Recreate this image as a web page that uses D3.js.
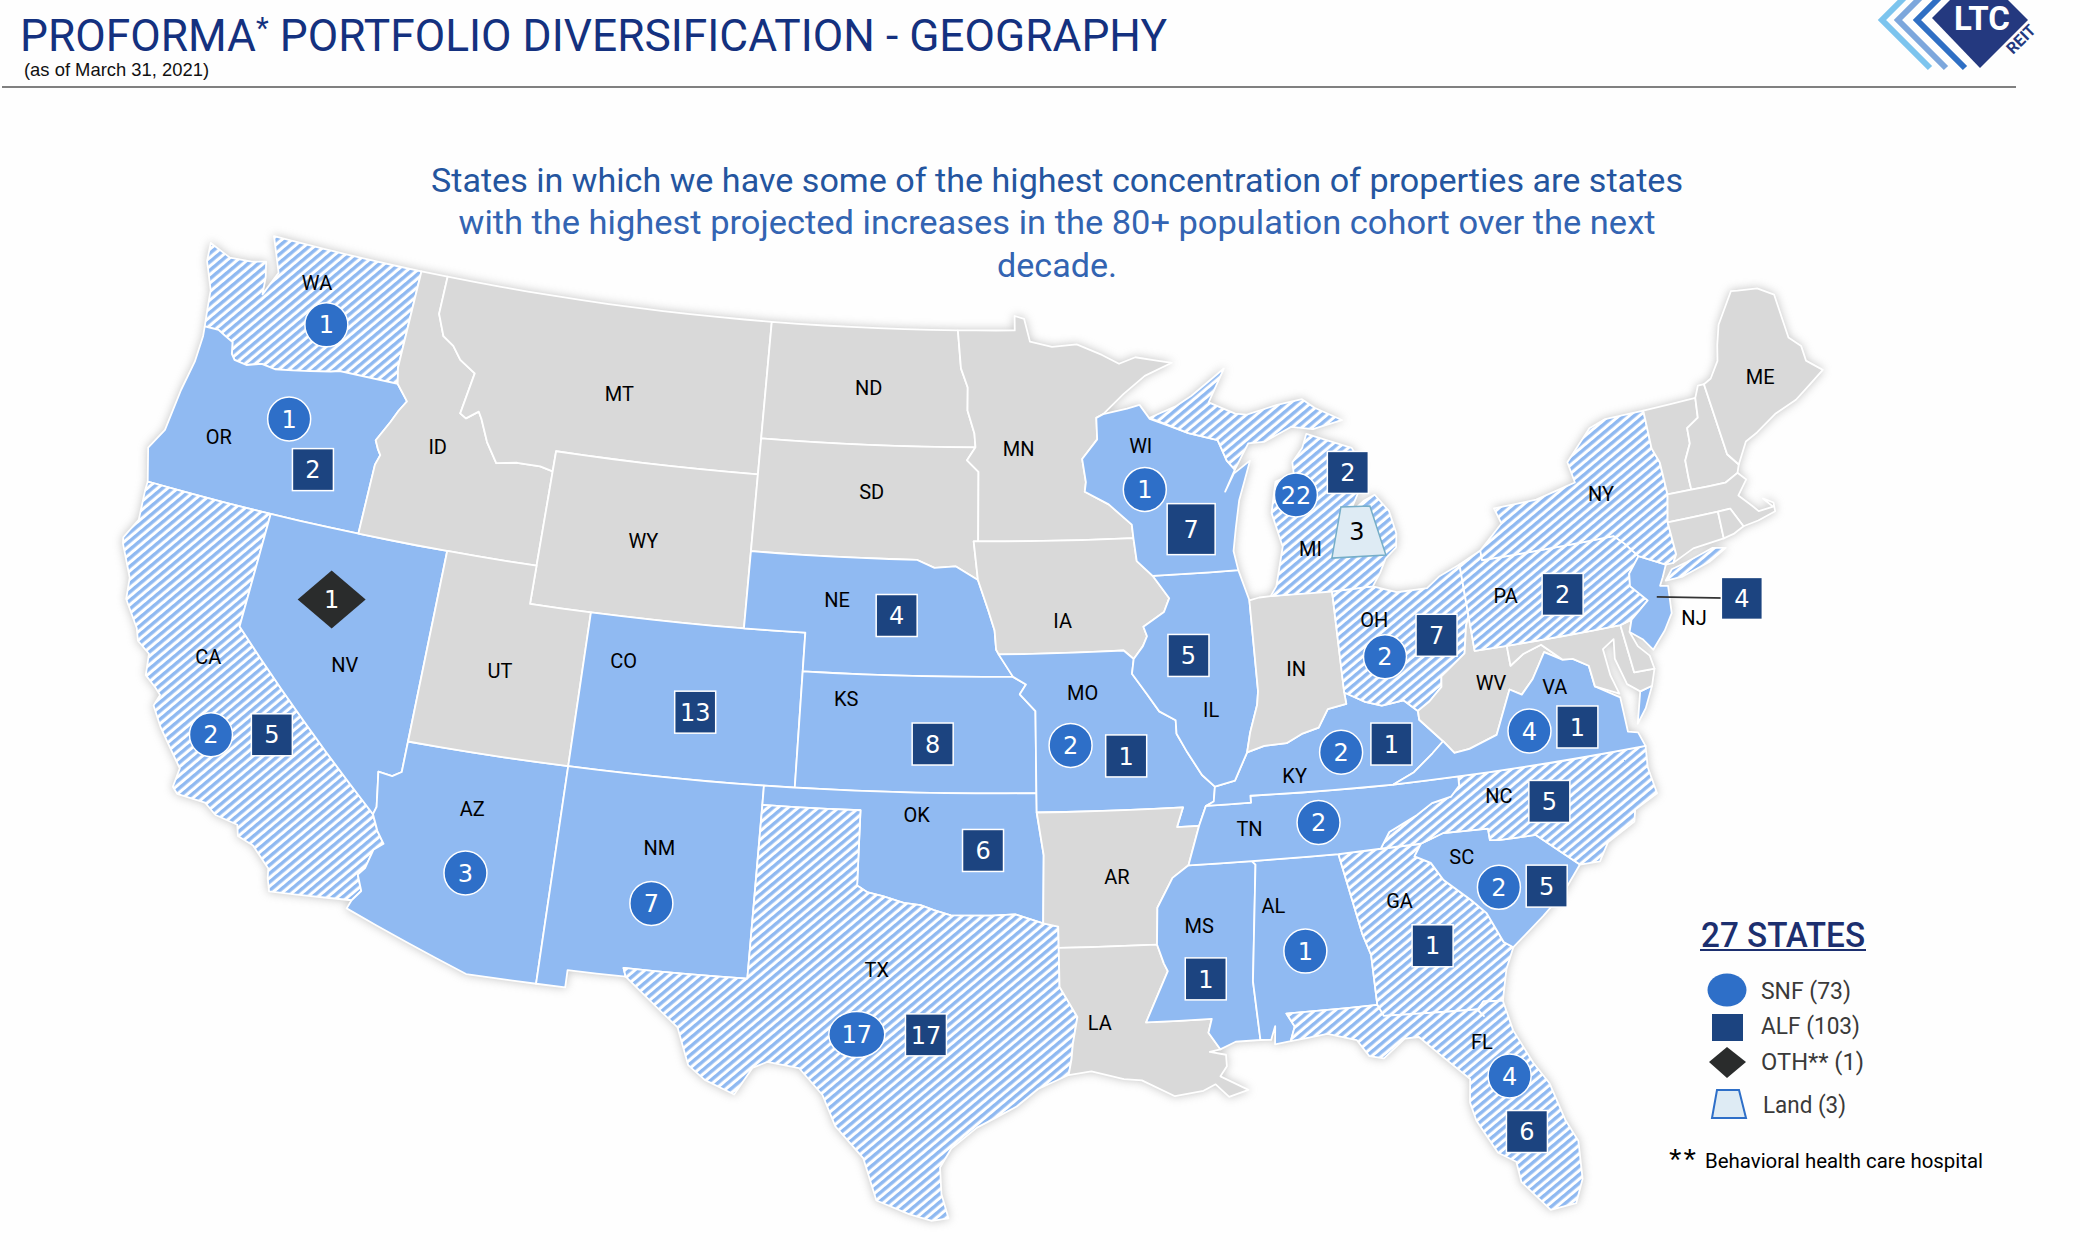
<!DOCTYPE html>
<html>
<head>
<meta charset="utf-8">
<title>Portfolio diversification - geography</title>
<script src="https://cdn.jsdelivr.net/npm/d3@7"></script>
<style>
    body { margin: 0; background: #fefefe; }
    text { font-family: Roboto, "Liberation Sans", sans-serif; }
</style>
</head>
<body>
<div id="chart"></div>
<script>
// Data: facility markers
var markerStates = ["WA", "OR", "OR", "CA", "CA", "NV", "AZ", "NM", "CO", "NE", "KS", "OK", "TX", "TX", "MO", "MO", "WI", "WI", "IL", "MI", "MI", "MI", "OH", "OH", "KY", "KY", "TN", "VA", "VA", "NC", "SC", "SC", "GA", "AL", "MS", "FL", "FL", "PA", "NJ"];
var markerKinds = ["SNF", "SNF", "ALF", "SNF", "ALF", "OTH", "SNF", "SNF", "ALF", "ALF", "ALF", "ALF", "SNF", "ALF", "SNF", "ALF", "SNF", "ALF", "ALF", "SNF", "ALF", "Land", "SNF", "ALF", "SNF", "ALF", "SNF", "SNF", "ALF", "ALF", "SNF", "ALF", "ALF", "SNF", "ALF", "SNF", "ALF", "ALF", "ALF"];
var markerCounts = [1, 1, 2, 2, 5, 1, 3, 7, 13, 4, 8, 6, 17, 17, 2, 1, 1, 7, 5, 22, 2, 3, 2, 7, 2, 1, 2, 4, 1, 5, 2, 5, 1, 1, 1, 4, 6, 2, 4];
var markerLon = [-119.76, -120.14, -118.91, -119.86, -118.06, -117.26, -111.49, -105.93, -105.23, -98.99, -97.73, -96.15, -99.72, -97.76, -93.42, -91.70, -90.62, -89.14, -89.54, -85.49, -83.63, -83.63, -83.27, -81.53, -85.04, -83.46, -85.98, -79.17, -77.69, -78.98, -80.92, -79.53, -83.10, -86.78, -89.72, -81.51, -81.29, -77.28, -71.70];
var markerLat = [47.11, 44.51, 43.38, 36.15, 36.50, 40.22, 33.92, 33.74, 38.75, 41.55, 38.26, 35.53, 30.71, 30.75, 38.21, 37.89, 44.74, 43.64, 40.39, 44.29, 44.72, 43.03, 39.88, 40.25, 37.57, 37.63, 35.83, 37.45, 37.34, 35.58, 33.60, 33.44, 32.34, 32.56, 32.04, 28.73, 27.23, 40.76, 39.69];

// Data: state abbreviations and where they sit
var labelNames = ["WA", "OR", "CA", "NV", "ID", "MT", "WY", "UT", "CO", "AZ", "NM", "ND", "SD", "NE", "KS", "OK", "TX", "MN", "IA", "MO", "AR", "LA", "WI", "IL", "MI", "IN", "OH", "KY", "TN", "MS", "AL", "GA", "FL", "SC", "NC", "VA", "WV", "PA", "NY", "NJ", "ME"];
var labelLon = [-120.49, -122.28, -120.59, -116.37, -114.96, -109.06, -107.55, -111.52, -107.68, -111.62, -105.88, -100.26, -99.99, -100.97, -100.50, -98.18, -99.22, -94.93, -93.56, -92.99, -92.15, -92.82, -90.67, -88.95, -85.22, -86.14, -83.44, -86.55, -88.08, -89.80, -87.58, -83.87, -82.12, -81.86, -80.45, -78.13, -80.08, -79.10, -75.31, -73.34, -69.02];
var labelLat = [48.12, 43.63, 38.08, 38.65, 44.61, 46.71, 43.00, 39.19, 39.88, 35.57, 35.19, 47.44, 44.72, 41.90, 39.35, 36.44, 32.41, 45.91, 41.42, 39.56, 34.79, 31.03, 45.88, 38.96, 42.86, 39.83, 40.87, 37.08, 35.82, 33.42, 33.79, 33.60, 29.72, 34.51, 35.93, 38.45, 38.82, 40.99, 43.12, 39.48, 45.09];

var solidStates = ["OR", "NV", "AZ", "NM", "CO", "NE", "KS", "OK", "MO", "WI", "IL", "KY", "TN", "VA", "SC", "AL", "MS", "NJ"];
var hatchedStates = ["WA", "CA", "TX", "MI", "OH", "PA", "NY", "NC", "GA", "FL"];

var legendLabels = ["SNF (73)", "ALF (103)", "OTH** (1)", "Land (3)"];

// Data: state outlines as lon/lat rings
var WA = [[-124.0, 46.25], [-124.1, 46.7], [-124.2, 47.2], [-124.65, 47.9], [-124.73, 48.38], [-123.9, 48.15], [-123.1, 48.2], [-122.6, 48.3], [-122.45, 47.9], [-122.38, 47.45], [-122.05, 48.1], [-122.6, 49.0], [-117.03, 49], [-117.04, 46.42], [-116.92, 46.0], [-119.0, 46.0], [-119.3, 45.93], [-120.0, 45.82], [-120.6, 45.73], [-121.2, 45.65], [-121.7, 45.7], [-122.2, 45.57], [-122.65, 45.62], [-122.8, 45.75], [-122.9, 46.05], [-123.2, 46.15], [-123.5, 46.26]];
var OR = [[-124.21, 42], [-124.55, 42.84], [-124.2, 43.4], [-124.1, 44.5], [-123.95, 45.3], [-123.95, 46.0], [-124.0, 46.25], [-123.5, 46.26], [-123.2, 46.15], [-122.9, 46.05], [-122.8, 45.75], [-122.65, 45.62], [-122.2, 45.57], [-121.7, 45.7], [-121.2, 45.65], [-120.6, 45.73], [-120.0, 45.82], [-119.3, 45.93], [-119.0, 46.0], [-116.92, 46.0], [-116.46, 45.6], [-116.67, 45.32], [-116.85, 45.0], [-117.2, 44.45], [-117.05, 44.23], [-116.93, 44.1], [-117.03, 43.83], [-117.03, 42]];
var CA = [[-124.21, 42], [-120, 42], [-120, 39], [-114.63, 35], [-114.4, 34.6], [-114.14, 34.3], [-114.4, 34.1], [-114.53, 33.6], [-114.7, 33.4], [-114.5, 33.0], [-114.72, 32.72], [-117.12, 32.53], [-117.25, 32.85], [-117.3, 33.1], [-117.9, 33.6], [-118.4, 33.75], [-118.5, 34.03], [-119.2, 34.15], [-119.6, 34.4], [-120.47, 34.45], [-120.65, 34.6], [-120.6, 35.1], [-120.9, 35.4], [-121.5, 36.0], [-121.9, 36.5], [-121.8, 36.8], [-122.0, 36.95], [-122.4, 37.2], [-122.5, 37.75], [-122.95, 38.0], [-123.1, 38.3], [-123.7, 38.95], [-123.8, 39.5], [-124.35, 40.3], [-124.4, 40.45], [-124.1, 41.0], [-124.2, 41.75]];
var NV = [[-120, 42], [-114.04, 42], [-114.04, 36.2], [-114.3, 36.05], [-114.74, 36.1], [-114.7, 35.9], [-114.57, 35.2], [-114.63, 35], [-120, 39]];
var AZ = [[-114.04, 37], [-109.05, 37], [-109.05, 31.33], [-111.07, 31.33], [-114.81, 32.49], [-114.72, 32.72], [-114.5, 33.0], [-114.7, 33.4], [-114.53, 33.6], [-114.4, 34.1], [-114.14, 34.3], [-114.4, 34.6], [-114.63, 35], [-114.57, 35.2], [-114.7, 35.9], [-114.74, 36.1], [-114.3, 36.05], [-114.04, 36.2]];
var ID = [[-117.03, 49], [-116.05, 49], [-116.05, 48], [-115.72, 47.45], [-115.3, 47.25], [-114.95, 46.93], [-114.35, 46.65], [-114.56, 45.56], [-114.33, 45.46], [-113.94, 45.69], [-113.8, 45.52], [-113.45, 44.95], [-113.0, 44.45], [-112.3, 44.55], [-111.5, 44.55], [-111.05, 44.47], [-111.05, 42], [-117.03, 42], [-117.03, 43.83], [-116.93, 44.1], [-117.05, 44.23], [-117.2, 44.45], [-116.85, 45.0], [-116.67, 45.32], [-116.46, 45.6], [-116.92, 46.0], [-117.04, 46.42]];
var MT = [[-116.05, 49], [-104.05, 49], [-104.05, 45], [-111.05, 45], [-111.05, 44.47], [-111.5, 44.55], [-112.3, 44.55], [-113.0, 44.45], [-113.45, 44.95], [-113.8, 45.52], [-113.94, 45.69], [-114.33, 45.46], [-114.56, 45.56], [-114.35, 46.65], [-114.95, 46.93], [-115.3, 47.25], [-115.72, 47.45], [-116.05, 48]];
var WY = [[-111.05, 45], [-104.05, 45], [-104.05, 41], [-111.05, 41]];
var UT = [[-114.04, 42], [-111.05, 42], [-111.05, 41], [-109.05, 41], [-109.05, 37], [-114.04, 37]];
var CO = [[-109.05, 41], [-102.05, 41], [-102.05, 37], [-109.05, 37]];
var NM = [[-109.05, 37], [-103, 37], [-103.04, 32], [-106.62, 32], [-106.53, 31.78], [-108.21, 31.78], [-108.21, 31.33], [-109.05, 31.33]];
var ND = [[-104.05, 49], [-97.23, 49], [-97.1, 48], [-96.85, 47.5], [-96.85, 46.9], [-96.6, 46.3], [-96.56, 45.94], [-104.05, 45.94]];
var SD = [[-104.05, 45.94], [-96.56, 45.94], [-96.85, 45.6], [-96.45, 45.3], [-96.45, 43.5], [-96.6, 43.5], [-96.45, 42.5], [-97.2, 42.85], [-97.9, 42.8], [-98.5, 43], [-104.05, 43]];
var NE = [[-104.05, 43], [-98.5, 43], [-97.9, 42.8], [-97.2, 42.85], [-96.45, 42.5], [-96.1, 41.7], [-95.9, 41.2], [-95.85, 40.7], [-95.31, 40], [-102.05, 40], [-102.05, 41], [-104.05, 41]];
var KS = [[-102.05, 40], [-95.31, 40], [-94.9, 39.8], [-95.1, 39.55], [-94.61, 39.11], [-94.62, 37], [-102.05, 37]];
var OK = [[-103, 37], [-94.62, 37], [-94.62, 36.5], [-94.43, 35.4], [-94.48, 33.64], [-95.3, 33.88], [-96, 33.85], [-96.6, 33.85], [-97.2, 33.85], [-97.7, 33.98], [-98.1, 34.1], [-98.6, 34.15], [-99.2, 34.3], [-99.7, 34.4], [-100, 34.56], [-100, 36.5], [-103, 36.5]];
var TX = [[-103, 36.5], [-100, 36.5], [-100, 34.56], [-99.7, 34.4], [-99.2, 34.3], [-98.6, 34.15], [-98.1, 34.1], [-97.7, 33.98], [-97.2, 33.85], [-96.6, 33.85], [-96, 33.85], [-95.3, 33.88], [-94.48, 33.64], [-94.04, 33.55], [-94.04, 31.99], [-93.55, 31.2], [-93.7, 30.5], [-93.75, 30.1], [-93.84, 29.7], [-94.7, 29.35], [-95.3, 28.9], [-96.4, 28.35], [-97.1, 27.8], [-97.4, 27.3], [-97.35, 26.6], [-97.15, 25.97], [-97.6, 25.9], [-98.2, 26.06], [-99.1, 26.4], [-99.5, 27.5], [-100.3, 28.3], [-100.7, 29.1], [-101.4, 29.77], [-102.3, 29.88], [-102.7, 29.7], [-103.15, 28.98], [-104, 29.3], [-104.5, 29.65], [-104.9, 30.6], [-106, 31.4], [-106.53, 31.78], [-106.62, 32], [-103.04, 32]];
var MN = [[-97.23, 49], [-95.15, 49], [-95.15, 49.38], [-94.8, 49.3], [-94.6, 48.7], [-93.8, 48.55], [-92.9, 48.6], [-92, 48.3], [-91.4, 48.05], [-90.8, 48.2], [-89.5, 48], [-90.5, 47.7], [-91.3, 47.25], [-92.05, 46.75], [-92.3, 46.66], [-92.3, 46.1], [-92.85, 45.6], [-92.75, 45], [-92.8, 44.75], [-92, 44.4], [-91.25, 43.85], [-91.22, 43.5], [-96.45, 43.5], [-96.45, 45.3], [-96.85, 45.6], [-96.56, 45.94], [-96.6, 46.3], [-96.85, 46.9], [-96.85, 47.5], [-97.1, 48]];
var IA = [[-96.45, 43.5], [-91.22, 43.5], [-91.15, 42.9], [-90.65, 42.5], [-90.15, 41.9], [-90.35, 41.55], [-91.05, 41.2], [-90.95, 40.95], [-91.1, 40.7], [-91.42, 40.38], [-91.73, 40.61], [-95.77, 40.58], [-95.85, 40.7], [-95.9, 41.2], [-96.1, 41.7], [-96.45, 42.5], [-96.6, 43.5]];
var MO = [[-95.77, 40.58], [-91.73, 40.61], [-91.42, 40.38], [-91.5, 40], [-91.05, 39.45], [-90.7, 39], [-90.2, 38.75], [-90.2, 38.4], [-89.9, 37.9], [-89.5, 37.3], [-89.13, 36.98], [-89.2, 36.6], [-89.45, 36.5], [-89.7, 36], [-90.37, 36], [-90.15, 36.5], [-94.62, 36.5], [-94.62, 37], [-94.61, 39.11], [-95.1, 39.55], [-94.9, 39.8], [-95.31, 40]];
var AR = [[-94.62, 36.5], [-90.15, 36.5], [-90.37, 36], [-89.7, 36], [-90.1, 35], [-90.6, 34.7], [-91.1, 33.95], [-91.17, 33], [-94.04, 33], [-94.04, 33.55], [-94.48, 33.64], [-94.43, 35.4]];
var LA = [[-94.04, 33], [-91.17, 33], [-91, 32.5], [-90.9, 32.3], [-91.6, 31], [-89.73, 31], [-89.85, 30.65], [-89.55, 30.2], [-89.85, 30.15], [-89.4, 30.05], [-89.4, 29.75], [-89.6, 29.5], [-88.85, 29.1], [-89.4, 28.95], [-89.75, 29.3], [-90.1, 29.15], [-90.9, 29.05], [-91.8, 29.5], [-92.3, 29.55], [-93.2, 29.78], [-93.84, 29.7], [-93.75, 30.1], [-93.7, 30.5], [-93.55, 31.2], [-94.04, 31.99]];
var MS = [[-90.1, 35], [-88.2, 35], [-88.1, 34.9], [-88.47, 31.9], [-88.4, 30.37], [-89.1, 30.37], [-89.55, 30.2], [-89.85, 30.65], [-89.73, 31], [-91.6, 31], [-90.9, 32.3], [-91, 32.5], [-91.17, 33], [-91.1, 33.95], [-90.6, 34.7]];
var AL = [[-88.2, 35], [-85.6, 34.98], [-85.18, 32.87], [-85, 32.3], [-85, 31], [-87.6, 31], [-87.4, 30.65], [-87.55, 30.28], [-88, 30.23], [-87.95, 30.7], [-88.1, 30.35], [-88.4, 30.37], [-88.47, 31.9], [-88.1, 34.9]];
var GA = [[-85.6, 34.98], [-83.11, 35], [-83.35, 34.7], [-82.9, 34.48], [-82.6, 34], [-81.9, 33.4], [-81.5, 33], [-81.15, 32.2], [-80.9, 32.03], [-81.2, 31.5], [-81.45, 30.7], [-82, 30.75], [-82.2, 30.55], [-82.05, 30.37], [-82.2, 30.57], [-84.86, 30.7], [-85, 31], [-85, 32.3], [-85.18, 32.87]];
var FL = [[-87.6, 31], [-85, 31], [-84.86, 30.7], [-82.2, 30.57], [-82.05, 30.37], [-82.2, 30.55], [-82, 30.75], [-81.45, 30.7], [-81.3, 29.9], [-80.9, 29], [-80.55, 28.4], [-80.3, 27.4], [-80.05, 26.8], [-80.12, 25.8], [-80.4, 25.2], [-81.1, 25.12], [-81.75, 25.95], [-81.8, 26.5], [-82.25, 26.8], [-82.7, 27.7], [-82.8, 28.2], [-82.7, 28.8], [-83.4, 29.5], [-83.95, 30.05], [-84.35, 30.05], [-85, 29.6], [-85.4, 29.7], [-85.7, 30.15], [-86.5, 30.38], [-87.55, 30.28], [-87.4, 30.65]];
var SC = [[-83.11, 35], [-82.4, 35.2], [-81.05, 35.15], [-81.05, 34.85], [-80.8, 34.82], [-79.67, 34.8], [-78.55, 33.86], [-79.2, 33.2], [-79.9, 32.7], [-80.5, 32.3], [-80.9, 32.03], [-81.15, 32.2], [-81.5, 33], [-81.9, 33.4], [-82.6, 34], [-82.9, 34.48], [-83.35, 34.7]];
var NC = [[-84.32, 35], [-83.11, 35], [-82.4, 35.2], [-81.05, 35.15], [-81.05, 34.85], [-80.8, 34.82], [-79.67, 34.8], [-78.55, 33.86], [-77.95, 33.85], [-77.6, 34.3], [-76.7, 34.7], [-76.6, 35], [-75.85, 35.3], [-75.95, 36], [-75.87, 36.55], [-81.68, 36.59], [-81.7, 36.35], [-82, 36.1], [-82.6, 36], [-83.1, 35.75], [-84, 35.4]];
var TN = [[-90.1, 35], [-88.2, 35], [-85.6, 34.98], [-84.32, 35], [-84, 35.4], [-83.1, 35.75], [-82.6, 36], [-82, 36.1], [-81.7, 36.35], [-81.68, 36.59], [-83.68, 36.6], [-86.5, 36.65], [-88.07, 36.68], [-88.07, 36.5], [-89.45, 36.5], [-89.7, 36]];
var KY = [[-89.13, 36.98], [-89.2, 36.6], [-89.45, 36.5], [-88.07, 36.5], [-88.07, 36.68], [-86.5, 36.65], [-83.68, 36.6], [-83, 36.85], [-82.35, 37.27], [-81.97, 37.54], [-82.6, 38.17], [-82.6, 38.4], [-83, 38.72], [-83.7, 38.65], [-84.2, 38.8], [-84.82, 39.1], [-84.8, 38.8], [-85.4, 38.72], [-85.75, 38.27], [-86.3, 38.15], [-86.8, 37.95], [-87.5, 37.93], [-88.05, 37.8], [-88.5, 37.1]];
var IL = [[-90.65, 42.5], [-87.8, 42.5], [-87.53, 41.7], [-87.53, 39.35], [-87.6, 39], [-87.9, 38.3], [-88.05, 37.8], [-88.5, 37.1], [-89.13, 36.98], [-89.5, 37.3], [-89.9, 37.9], [-90.2, 38.4], [-90.2, 38.75], [-90.7, 39], [-91.05, 39.45], [-91.5, 40], [-91.42, 40.38], [-91.1, 40.7], [-90.95, 40.95], [-91.05, 41.2], [-90.35, 41.55], [-90.15, 41.9]];
var IN = [[-87.53, 41.7], [-87.2, 41.75], [-86.82, 41.76], [-84.8, 41.76], [-84.82, 39.1], [-84.8, 38.8], [-85.4, 38.72], [-85.75, 38.27], [-86.3, 38.15], [-86.8, 37.95], [-87.5, 37.93], [-88.05, 37.8], [-87.9, 38.3], [-87.6, 39], [-87.53, 39.35]];
var OH = [[-84.8, 41.72], [-83.45, 41.73], [-82.7, 41.5], [-81.7, 41.5], [-81.25, 41.75], [-80.52, 41.98], [-80.52, 40.64], [-80.65, 40.4], [-80.85, 39.7], [-81.7, 39.2], [-81.75, 38.93], [-82.2, 38.6], [-82.6, 38.4], [-83, 38.72], [-83.7, 38.65], [-84.2, 38.8], [-84.82, 39.1]];
var WV = [[-82.6, 38.4], [-82.2, 38.6], [-81.75, 38.93], [-81.7, 39.2], [-80.85, 39.7], [-80.65, 40.4], [-80.52, 40.64], [-80.52, 39.72], [-79.48, 39.72], [-79.48, 39.2], [-79, 39.45], [-78.4, 39.6], [-77.83, 39.13], [-78.35, 39.4], [-78.87, 38.77], [-79.3, 38.42], [-79.65, 38.6], [-80.3, 37.5], [-81.2, 37.25], [-81.68, 37.2], [-81.97, 37.54], [-82.6, 38.17]];
var VA = [[-83.68, 36.6], [-81.68, 36.59], [-75.87, 36.55], [-76, 36.93], [-76.3, 37], [-76.3, 37.55], [-76.3, 37.9], [-77, 38.3], [-77.05, 38.85], [-77.5, 39.1], [-77.83, 39.13], [-78.35, 39.4], [-78.87, 38.77], [-79.3, 38.42], [-79.65, 38.6], [-80.3, 37.5], [-81.2, 37.25], [-81.68, 37.2], [-81.97, 37.54], [-82.35, 37.27], [-83, 36.85]];
var VAshore = [[-75.95, 37.15], [-75.65, 37.95], [-75.25, 38.03], [-75.6, 37.5]];
var MD = [[-79.48, 39.72], [-75.79, 39.72], [-75.7, 38.46], [-75.05, 38.45], [-75.25, 38.03], [-75.65, 37.95], [-76, 38.2], [-76.2, 38.9], [-76.1, 39.4], [-76.5, 39.2], [-76.45, 38.5], [-76.3, 38], [-77, 38.3], [-77.05, 38.85], [-77.5, 39.1], [-77.83, 39.13], [-78.4, 39.6], [-79, 39.45], [-79.48, 39.2]];
var DE = [[-75.79, 39.72], [-75.4, 39.8], [-75.55, 39.5], [-75.4, 39.1], [-75.1, 38.8], [-75.05, 38.45], [-75.7, 38.46]];
var PA = [[-80.52, 41.98], [-79.76, 42.25], [-79.76, 42], [-75.35, 42], [-75.05, 41.75], [-74.7, 41.36], [-75.13, 40.97], [-75.2, 40.65], [-74.75, 40.2], [-75.4, 39.8], [-75.79, 39.72], [-80.52, 39.72]];
var NJ = [[-74.7, 41.36], [-73.9, 41], [-74.1, 40.7], [-74.25, 40.5], [-74, 40.45], [-74.1, 39.75], [-74.45, 39.35], [-74.95, 38.93], [-75.2, 39.25], [-75.55, 39.5], [-75.4, 39.8], [-74.75, 40.2], [-75.2, 40.65], [-75.13, 40.97]];
var NY = [[-79.76, 42], [-79.76, 42.25], [-78.9, 42.85], [-79.05, 43.27], [-77.6, 43.3], [-76.5, 43.5], [-76.2, 43.55], [-76.3, 44.1], [-75.3, 44.85], [-74.7, 45], [-73.35, 45], [-73.4, 44], [-73.25, 43.6], [-73.27, 42.75], [-73.5, 42.05], [-73.49, 41.2], [-73.65, 41], [-73.9, 41], [-74.7, 41.36], [-75.05, 41.75], [-75.35, 42]];
var LongIsland = [[-74.03, 40.6], [-73.75, 40.85], [-73.2, 40.95], [-72.3, 41.15], [-71.87, 41.07], [-72.5, 40.82], [-73.5, 40.6]];
var VT = [[-73.35, 45], [-71.5, 45.01], [-71.6, 44.5], [-72.05, 44.3], [-72.1, 43.9], [-72.4, 43.5], [-72.45, 43], [-72.46, 42.73], [-73.27, 42.75], [-73.25, 43.6], [-73.4, 44]];
var NH = [[-71.5, 45.01], [-71.3, 45.3], [-71.08, 45.3], [-70.98, 43.4], [-70.7, 43.07], [-70.82, 42.87], [-71.3, 42.7], [-72.46, 42.73], [-72.45, 43], [-72.4, 43.5], [-72.1, 43.9], [-72.05, 44.3], [-71.6, 44.5]];
var ME = [[-71.08, 45.3], [-70.8, 45.4], [-70.4, 45.8], [-70.25, 46.2], [-70, 46.7], [-69.23, 47.46], [-69, 47.43], [-68.3, 47.35], [-67.79, 47.07], [-67.78, 45.9], [-67.45, 45.6], [-67.45, 45.2], [-67, 44.85], [-68.2, 44.3], [-69, 44.1], [-69.8, 43.75], [-70.25, 43.6], [-70.7, 43.07], [-70.98, 43.4]];
var MA = [[-73.5, 42.05], [-73.27, 42.75], [-72.46, 42.73], [-71.3, 42.7], [-70.82, 42.87], [-70.6, 42.65], [-71, 42.3], [-70.65, 41.95], [-70.5, 41.78], [-70, 41.8], [-70.25, 42.07], [-69.95, 41.9], [-69.98, 41.67], [-70.6, 41.55], [-71.12, 41.5], [-71.38, 42.02], [-71.8, 42.02]];
var CT = [[-73.5, 42.05], [-71.8, 42.02], [-71.85, 41.32], [-72.9, 41.25], [-73.65, 41], [-73.49, 41.2]];
var RI = [[-71.8, 42.02], [-71.38, 42.02], [-71.12, 41.5], [-71.5, 41.37], [-71.85, 41.32]];
var WI = [[-92.05, 46.75], [-91.2, 46.87], [-90.75, 46.95], [-90.42, 46.57], [-89.1, 46.14], [-88.1, 45.9], [-87.85, 45.35], [-87.6, 45.1], [-88, 44.55], [-87.65, 45], [-87.05, 45.3], [-87.3, 44.8], [-87.55, 44.3], [-87.75, 43.6], [-87.9, 43], [-87.8, 42.5], [-90.65, 42.5], [-91.15, 42.9], [-91.22, 43.5], [-91.25, 43.85], [-92, 44.4], [-92.8, 44.75], [-92.75, 45], [-92.85, 45.6], [-92.3, 46.1], [-92.3, 46.66]];
var MIlower = [[-86.82, 41.76], [-84.8, 41.72], [-83.45, 41.73], [-83.15, 42.05], [-82.9, 42.4], [-82.5, 42.65], [-82.42, 43], [-82.55, 43.6], [-82.95, 44.07], [-83.35, 43.95], [-83.9, 43.65], [-83.4, 44.3], [-83.3, 45], [-83.5, 45.35], [-85, 45.85], [-85.2, 45.5], [-85.6, 45.15], [-85.6, 44.85], [-86.25, 44.7], [-86.5, 43.9], [-86.25, 43], [-86.6, 42]];
var MIupper = [[-90.42, 46.6], [-89.1, 46.14], [-88.1, 45.9], [-87.85, 45.35], [-87.6, 45.1], [-87.05, 45.75], [-86.5, 45.75], [-85.5, 46.07], [-84.75, 45.95], [-83.7, 46.1], [-84.6, 46.5], [-85, 46.76], [-85.9, 46.68], [-87, 46.5], [-87.4, 46.55], [-88.3, 46.9], [-87.65, 47.75], [-88.9, 47.1], [-89.5, 46.85]];

var outlines = {
    WA: [WA], OR: [OR], CA: [CA], NV: [NV], AZ: [AZ], ID: [ID], MT: [MT], WY: [WY], UT: [UT], CO: [CO], NM: [NM],
    ND: [ND], SD: [SD], NE: [NE], KS: [KS], OK: [OK], TX: [TX], MN: [MN], IA: [IA], MO: [MO], AR: [AR], LA: [LA],
    MS: [MS], AL: [AL], GA: [GA], FL: [FL], SC: [SC], NC: [NC], TN: [TN], KY: [KY], IL: [IL], IN: [IN], OH: [OH],
    WV: [WV], VA: [VA, VAshore], MD: [MD], DE: [DE], PA: [PA], NJ: [NJ], NY: [NY, LongIsland], VT: [VT], NH: [NH],
    ME: [ME], MA: [MA], CT: [CT], RI: [RI], WI: [WI], MI: [MIlower, MIupper]
};

var svgWidth = 2080;
var svgHeight = 1250;

var svg = d3.select("#chart")
    .append("svg")
    .attr("width", svgWidth)
    .attr("height", svgHeight);

// Albers fitted to the reference, a little flatter in y than in x
var albers = d3.geoAlbers()
    .parallels([29.5, 45.5])
    .rotate([96, 0])
    .center([0, 37.5])
    .scale(2357)
    .translate([988, 774]);
var flatten = d3.scaleLinear().domain([0, 2357]).range([774, 774 + 2203]);

function project(lonLat) {
    var p = albers(lonLat);
    return [p[0], flatten(p[1] - 774)];
}

// parallels are straight in lon/lat, so walk along each edge before projecting
function ringPath(ring) {
    var pts = [];
    ring.forEach(function (a, i) {
        var b = ring[(i + 1) % ring.length];
        var n = Math.max(1, Math.ceil(Math.abs(b[0] - a[0])));
        var step = d3.interpolateArray(a, b);
        d3.range(n).forEach(function (k) { pts.push(project(step(k / n))); });
    });
    return d3.line()(pts) + "Z";
}

var defs = svg.append("defs");
var hatch = defs.append("pattern")
    .attr("id", "hatch")
    .attr("patternUnits", "userSpaceOnUse")
    .attr("width", 6.5)
    .attr("height", 6.5)
    .attr("patternTransform", "rotate(-40)");
hatch.append("rect").attr("width", 6.5).attr("height", 6.5).attr("fill", "#ffffff");
hatch.append("rect").attr("width", 6.5).attr("height", 3.4).attr("fill", "#8fb9f1");

function stateFill(name) {
    if (hatchedStates.indexOf(name) >= 0) return "url(#hatch)";
    if (solidStates.indexOf(name) >= 0) return "#90baf2";
    return "#d9d9d9";
}

// Title block
var title = svg.append("text")
    .attr("x", 20).attr("y", 51)
    .attr("font-size", 45).attr("fill", "#14317f")
    .attr("textLength", 1147).attr("lengthAdjust", "spacingAndGlyphs");
title.append("tspan").text("PROFORMA");
title.append("tspan").attr("font-size", 30).attr("dy", -13).text("*");
title.append("tspan").attr("dy", 13).text(" PORTFOLIO DIVERSIFICATION - GEOGRAPHY");
svg.append("text")
    .attr("x", 24).attr("y", 76)
    .attr("font-size", 18.4).attr("fill", "#111111")
    .style("font-family", "Liberation Sans")
    .text("(as of March 31, 2021)");
svg.append("line")
    .attr("x1", 2).attr("x2", 2016).attr("y1", 87).attr("y2", 87)
    .attr("stroke", "#808080").attr("stroke-width", 2);

// Logo
[["#7cc4ee", 1882], ["#7da7dc", 1898], ["#2f6fc4", 1917]].forEach(function (c) {
    svg.append("path")
        .attr("d", "M" + (c[1] + 22) + ",-2L" + c[1] + ",20L" + (c[1] + 48) + ",68")
        .attr("fill", "none").attr("stroke", c[0]).attr("stroke-width", 6);
});
svg.append("path").attr("d", "M1952,-2L1932,18L1980,68L2028,20L2006,-2Z").attr("fill", "#24397f");
svg.append("text").attr("x", 1982).attr("y", 30).attr("text-anchor", "middle")
    .attr("font-size", 33).attr("font-weight", 700).attr("fill", "#ffffff").text("LTC");
svg.append("text").attr("transform", "translate(2025,43) rotate(-45)").attr("text-anchor", "middle")
    .attr("font-size", 16).attr("font-weight", 700).attr("fill", "#24397f").text("REIT");

// Heading
var headingLines = [
    ["States in which we have some of the highest concentration of properties are states", 192, 1252, "#24559f"],
    ["with the highest projected increases in the 80+ population cohort over the next", 234, 1197, "#3364b2"],
    ["decade.", 277, 120, "#3364b2"]
];
svg.selectAll(".heading")
    .data(headingLines)
    .enter()
    .append("text")
    .attr("class", "heading")
    .attr("x", 1057)
    .attr("y", d => d[1])
    .attr("text-anchor", "middle")
    .attr("font-size", 33)
    .attr("fill", d => d[3])
    .attr("textLength", d => d[2])
    .attr("lengthAdjust", "spacingAndGlyphs")
    .text(d => d[0]);

// Map
var mapGroup = svg.append("g")
    .attr("transform", "translate(3.5, 0)")
    .style("filter", "drop-shadow(0 0 5px rgba(110,110,110,.4))");
mapGroup.selectAll("path")
    .data(Object.keys(outlines))
    .enter()
    .append("path")
    .attr("d", d => outlines[d].map(ringPath).join(""))
    .attr("fill", d => stateFill(d))
    .attr("stroke", "#ffffff")
    .attr("stroke-width", 1.8)
    .attr("stroke-linejoin", "round");

// State abbreviations
svg.append("g").selectAll("text")
    .data(labelNames)
    .enter()
    .append("text")
    .attr("x", (d, i) => project([labelLon[i], labelLat[i]])[0])
    .attr("y", (d, i) => project([labelLon[i], labelLat[i]])[1])
    .attr("dy", "0.36em")
    .attr("text-anchor", "middle")
    .attr("font-size", 20)
    .attr("fill", "#000000")
    .text(d => d);

// NJ leader line
var njFrom = project([-74.33, 40.22]);
var njTo = project([markerLon[38], markerLat[38]]);
svg.append("line")
    .attr("x1", njFrom[0]).attr("y1", njFrom[1]).attr("x2", njTo[0]).attr("y2", njTo[1])
    .attr("stroke", "#333333").attr("stroke-width", 1.8);

// Markers
var kindColor = { SNF: "#2e6fc8", ALF: "#1c4480", OTH: "#2a2c2c", Land: "#deebf4" };

var markerData = markerStates.map(function (s, i) {
    var p = project([markerLon[i], markerLat[i]]);
    return { state: s, kind: markerKinds[i], count: markerCounts[i], x: p[0], y: p[1] };
});

var markers = svg.append("g").selectAll("g")
    .data(markerData)
    .enter()
    .append("g")
    .attr("transform", d => `translate(${d.x}, ${d.y})`);

markers.filter(d => d.kind === "SNF").append("ellipse")
    .attr("rx", d => d.count === 17 ? 28 : 21.5)
    .attr("ry", d => d.count === 17 ? 23 : 22)
    .attr("fill", kindColor.SNF)
    .attr("stroke", "#ffffff").attr("stroke-width", 1.5);

markers.filter(d => d.kind === "ALF").append("rect")
    .attr("x", d => d.state === "WI" ? -24 : -20.5)
    .attr("y", d => d.state === "WI" ? -25.5 : -21)
    .attr("width", d => d.state === "WI" ? 48 : 41)
    .attr("height", d => d.state === "WI" ? 51 : 42)
    .attr("fill", kindColor.ALF)
    .attr("stroke", "#ffffff").attr("stroke-width", 1.5);

markers.filter(d => d.kind === "OTH").append("path")
    .attr("d", "M0,-29L34,0L0,29L-34,0Z")
    .attr("fill", kindColor.OTH);

markers.filter(d => d.kind === "Land").append("path")
    .attr("d", "M-16,-30L13,-31L29,18L-25,21Z")
    .attr("fill", kindColor.Land)
    .attr("stroke", "#76aec8").attr("stroke-width", 1.5);

markers.append("text")
    .attr("y", d => d.kind === "Land" ? -6 : 0)
    .attr("dy", "0.36em")
    .attr("text-anchor", "middle")
    .attr("font-size", 24)
    .attr("fill", d => d.kind === "Land" ? "#000000" : "#ffffff")
    .style("font-family", "DejaVu Sans")
    .text(d => d.count);

// Legend
var legend = svg.append("g");
legend.append("text")
    .attr("x", 1701).attr("y", 947)
    .attr("font-size", 35).attr("font-weight", 500).attr("fill", "#1c2f6f")
    .attr("textLength", 164).attr("lengthAdjust", "spacingAndGlyphs")
    .text("27 STATES");
legend.append("line")
    .attr("x1", 1700).attr("x2", 1866).attr("y1", 950).attr("y2", 950)
    .attr("stroke", "#1c2f6f").attr("stroke-width", 2);
legend.append("ellipse")
    .attr("cx", 1727).attr("cy", 990).attr("rx", 19.5).attr("ry", 16.5).attr("fill", kindColor.SNF);
legend.append("rect")
    .attr("x", 1712).attr("y", 1014).attr("width", 31).attr("height", 27).attr("fill", kindColor.ALF);
legend.append("path")
    .attr("d", "M1727,1047L1746,1062L1727,1078L1709,1062Z").attr("fill", kindColor.OTH);
legend.append("path")
    .attr("d", "M1717,1090L1739,1090L1746,1118L1712,1118Z")
    .attr("fill", kindColor.Land).attr("stroke", kindColor.SNF).attr("stroke-width", 2);

var legendX = [1761, 1761, 1761, 1763];
var legendY = [999, 1034, 1070, 1113];
var legendLen = [90, 99, 103, 83];
legend.selectAll(".legendLabel")
    .data(legendLabels)
    .enter()
    .append("text")
    .attr("class", "legendLabel")
    .attr("x", (d, i) => legendX[i])
    .attr("y", (d, i) => legendY[i])
    .attr("font-size", 23)
    .attr("fill", "#3a3a3a")
    .attr("textLength", (d, i) => legendLen[i])
    .attr("lengthAdjust", "spacingAndGlyphs")
    .text(d => d);

legend.append("text")
    .attr("x", 1669).attr("y", 1171)
    .attr("font-size", 32).attr("fill", "#000000")
    .attr("letter-spacing", 2)
    .style("font-family", "Liberation Sans")
    .text("**");
legend.append("text")
    .attr("x", 1705).attr("y", 1168)
    .attr("font-size", 20).attr("fill", "#000000")
    .attr("textLength", 278).attr("lengthAdjust", "spacingAndGlyphs")
    .text("Behavioral health care hospital");
</script>
</body>
</html>
